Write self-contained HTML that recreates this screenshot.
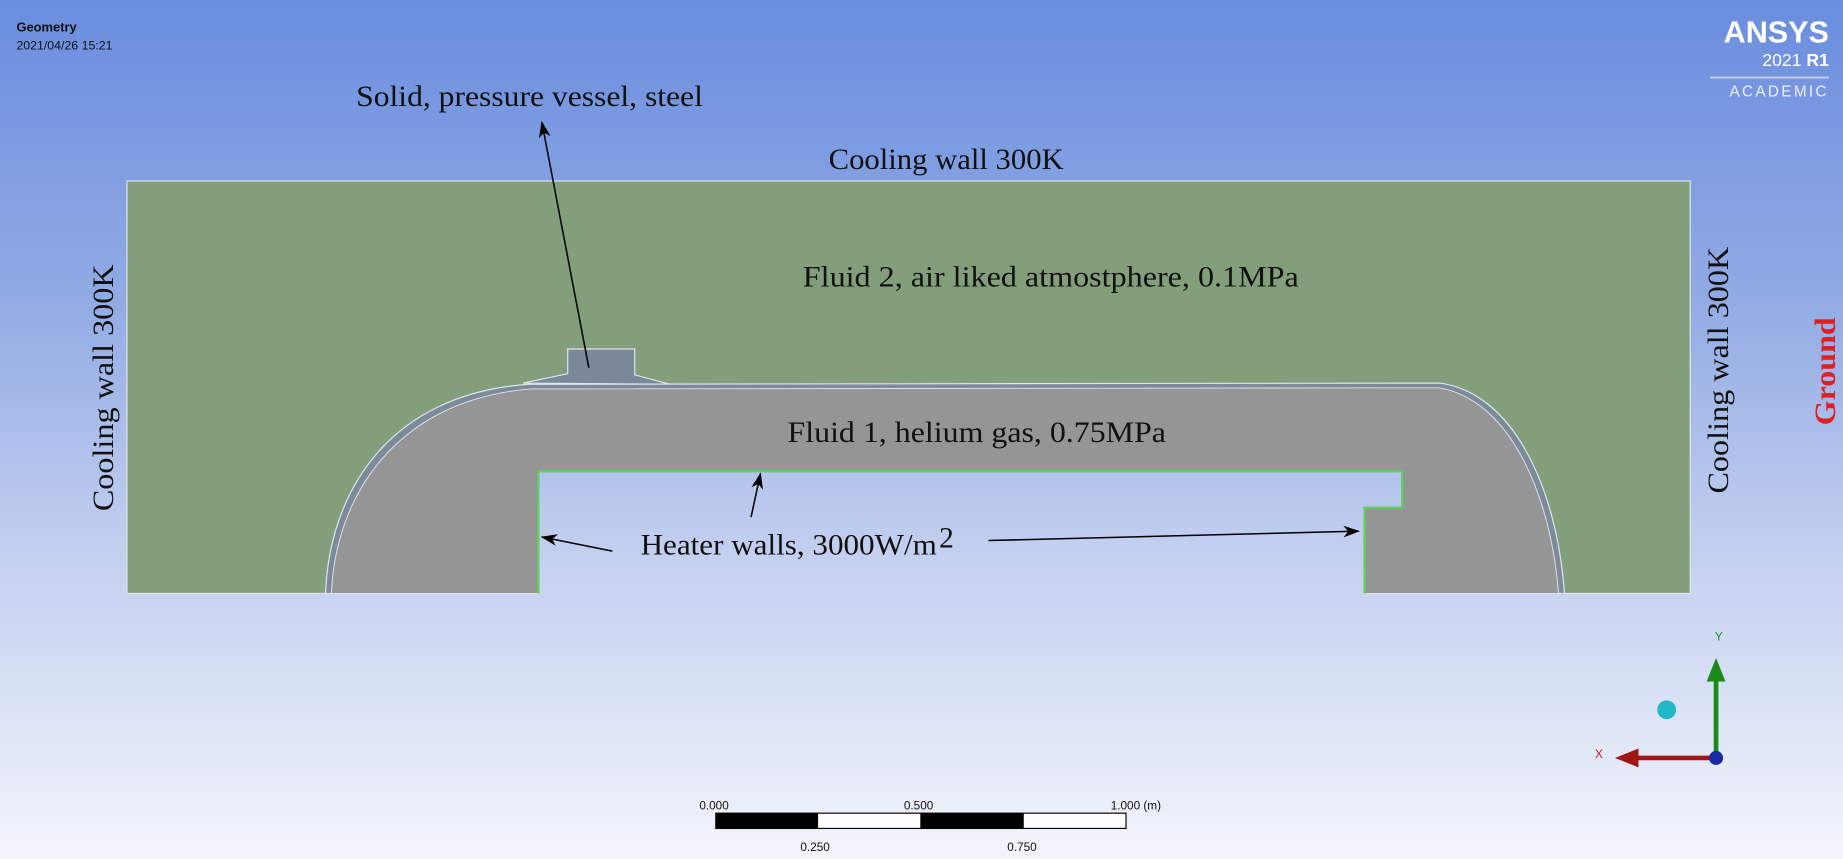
<!DOCTYPE html>
<html><head><meta charset="utf-8"><style>
html,body{margin:0;padding:0;width:1843px;height:859px;overflow:hidden}
svg{display:block}
.s{font-family:"Liberation Serif",serif;font-size:25px;fill:#111}
.a{font-family:"Liberation Sans",sans-serif}
</style></head><body>
<svg width="1843" height="859" viewBox="0 0 1568 731" preserveAspectRatio="none" xmlns="http://www.w3.org/2000/svg">
<defs>
<linearGradient id="bg" gradientUnits="userSpaceOnUse" x1="0" y1="0" x2="0" y2="731">
<stop offset="0" stop-color="#6a8ddf"/>
<stop offset="0.35" stop-color="#92abe4"/>
<stop offset="0.65" stop-color="#c4d0f0"/>
<stop offset="1" stop-color="#f3f5fb"/>
</linearGradient>
<marker id="ar" markerWidth="14" markerHeight="10" refX="13" refY="5" orient="auto" markerUnits="userSpaceOnUse">
<path d="M0,0 L14,5 L0,10 L4,5 Z" fill="#000"/>
</marker>
</defs>
<rect width="1568" height="731" fill="url(#bg)"/>
<rect x="108" y="154" width="1330" height="351" fill="#839e7b" stroke="#dfe6ee" stroke-width="1"/>
<path d="M445,326 L483,318 L483,297 L540,297 L540,319 L570,327 Z" fill="#7a8899" stroke="#dde5f0" stroke-width="1"/>
<path d="M277,505 C280,420 330,335 450,327 L1225,326 C1290,335 1325,420 1331,505 Z" fill="#7d8a99" stroke="#dde5f0" stroke-width="1"/>
<path d="M282,505 C285,425 335,340 452,331 L1224,330 C1286,340 1320,425 1326,505 Z" fill="#959595" stroke="#dde5f0" stroke-width="0.8"/>
<path d="M458,506 L458,401 L1193,401 L1193,432 L1161,432 L1161,506 Z" fill="url(#bg)"/>
<path d="M458,505 L458,401 L1193,401 L1193,432 L1161,432 L1161,505" fill="none" stroke="#5fcf5f" stroke-width="2"/>
<rect x="100" y="505.5" width="1350" height="3" fill="url(#bg)"/>
<g stroke="#000" stroke-width="1.3" fill="none" marker-end="url(#ar)">
<line x1="501" y1="313" x2="461" y2="104"/>
<line x1="639" y1="440" x2="647" y2="403"/>
<line x1="521" y1="469" x2="461" y2="457"/>
<line x1="841" y1="460" x2="1156" y2="452"/>
</g>
<text class="s" x="303" y="90" textLength="295" lengthAdjust="spacingAndGlyphs">Solid, pressure vessel, steel</text>
<text class="s" x="705" y="144" textLength="200" lengthAdjust="spacingAndGlyphs">Cooling wall 300K</text>
<text class="s" x="683" y="244" textLength="422" lengthAdjust="spacingAndGlyphs">Fluid 2, air liked atmostphere, 0.1MPa</text>
<text class="s" x="670" y="376" textLength="322" lengthAdjust="spacingAndGlyphs">Fluid 1, helium gas, 0.75MPa</text>
<text class="s" x="545" y="472" textLength="252" lengthAdjust="spacingAndGlyphs">Heater walls, 3000W/m</text>
<text class="s" x="799" y="466" font-size="15">2</text>
<text class="s" transform="translate(96,330) rotate(-90)" text-anchor="middle" textLength="210" lengthAdjust="spacingAndGlyphs">Cooling wall 300K</text>
<text class="s" transform="translate(1470,315) rotate(-90)" text-anchor="middle" textLength="210" lengthAdjust="spacingAndGlyphs">Cooling wall 300K</text>
<text class="s" transform="translate(1561,316) rotate(-90)" text-anchor="middle" style="fill:#e02020;font-weight:bold" textLength="92" lengthAdjust="spacingAndGlyphs">Ground</text>
<text class="a" x="14" y="27" font-size="11" font-weight="bold" fill="#111">Geometry</text>
<text class="a" x="14" y="42" font-size="10.5" fill="#111">2021/04/26 15:21</text>
<text class="a" x="1556" y="36" font-size="26" font-weight="bold" fill="#fff" text-anchor="end">ANSYS</text>
<text class="a" x="1556" y="56" font-size="15" fill="#fff" text-anchor="end">2021 <tspan font-weight="bold">R1</tspan></text>
<line x1="1455" y1="66" x2="1556" y2="66" stroke="#c8d2ee" stroke-width="1.5"/>
<text class="a" x="1556" y="82" font-size="13" fill="#eef" text-anchor="end" letter-spacing="2">ACADEMIC</text>
<line x1="1460" y1="645" x2="1460" y2="578" stroke="#1a8a1a" stroke-width="4"/>
<path d="M1452,580 L1460,560 L1468,580 Z" fill="#1a8a1a"/>
<line x1="1460" y1="645" x2="1392" y2="645" stroke="#a01515" stroke-width="4"/>
<path d="M1394,637 L1374,645 L1394,653 Z" fill="#a01515"/>
<circle cx="1460" cy="645" r="6" fill="#1a2aa0"/>
<ellipse cx="1418" cy="604" rx="8" ry="8" fill="#20b8c8"/>
<text class="a" x="1459" y="545" font-size="10" fill="#1a8a1a">Y</text>
<text class="a" x="1357" y="645" font-size="10" fill="#c02020">X</text>
<rect x="609" y="692" width="349" height="13" fill="#fff" stroke="#000" stroke-width="1"/>
<rect x="609" y="692" width="87" height="13" fill="#000"/>
<rect x="783" y="692" width="88" height="13" fill="#000"/>
<g class="a" font-size="10" fill="#111">
<text x="595" y="689">0.000</text>
<text x="769" y="689">0.500</text>
<text x="945" y="689">1.000 (m)</text>
<text x="681" y="724">0.250</text>
<text x="857" y="724">0.750</text>
</g>
</svg>
</body></html>
